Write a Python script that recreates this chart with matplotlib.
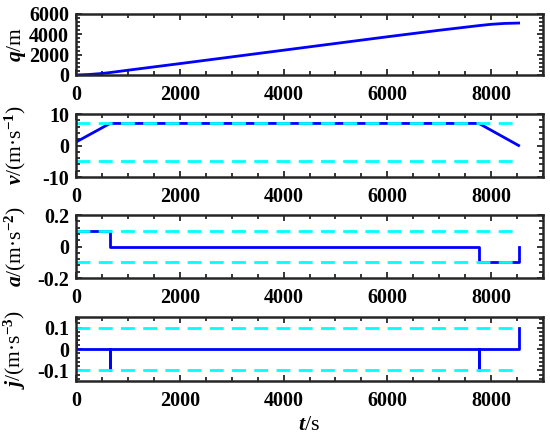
import numpy as np
import matplotlib
matplotlib.use("Agg")
import matplotlib.pyplot as plt
from matplotlib.ticker import MultipleLocator, AutoMinorLocator

# position
t_q = [0, 250, 500, 655, 1000, 2000, 3000, 4000, 5000, 6000, 7000, 7765, 8000, 8250, 8530]
q = [0, 50, 150, 240, 470, 1120, 1780, 2440, 3100, 3760, 4400, 4860, 4985, 5070, 5110]

# velocity
t_v = [0, 655, 7765, 8530]
v = [1.1, 7, 7, 0]
v_lim = [7, -5]

# acceleration
t_a = [0, 0, 655, 655, 7765, 7765, 8530, 8530]
a = [0, 0.1, 0.1, 0, 0, -0.1, -0.1, 0]
a_lim = [0.1, -0.1]

# jerk
t_j = [0, 0, 655, 655, 655, 7765, 7765, 7765, 8530, 8530]
j = [0.1, 0, 0, -0.1, 0, 0, -0.1, 0, 0, 0.1]
j_lim = [0.1, -0.1]

t_end = 8530

plt.rcParams['font.family'] = 'Liberation Serif'
plt.rcParams['font.weight'] = 'bold'
plt.rcParams['mathtext.fontset'] = 'custom'
plt.rcParams['mathtext.rm'] = 'Liberation Serif:bold'
plt.rcParams['mathtext.it'] = 'Liberation Serif:italic:bold'
plt.rcParams['mathtext.bf'] = 'Liberation Serif:bold'
plt.rcParams['axes.unicode_minus'] = False

fig = plt.figure(figsize=(5.5, 4.4), dpi=100)
W, H = 550.0, 440.0
left, right = 76, 543
boxes = [(14, 75), (114, 177), (215, 278), (317, 381)]
axes = []
for top, bot in boxes:
    ax = fig.add_axes([left / W, 1 - bot / H, (right - left) / W, (bot - top) / H])
    axes.append(ax)

blue = '#0000ff'
cyan = '#00ffff'
lw = 2.0
dash = (5.0, 3.0)

ax = axes[0]
ax.plot(t_q, q, color=blue, lw=lw)
ax.set_ylim(0, 6000)
ax.yaxis.set_major_locator(MultipleLocator(2000))
ax.set_ylabel(r'$q$/m')

ax = axes[1]
ax.plot(t_v, v, color=blue, lw=lw)
for lim in v_lim:
    ax.plot([0, t_end], [lim, lim], color=cyan, lw=lw, dashes=dash)
ax.set_ylim(-10, 10)
ax.yaxis.set_major_locator(MultipleLocator(10))
ax.set_ylabel(r'$v$/(m·s$^{-1}$)')

ax = axes[2]
ax.plot(t_a, a, color=blue, lw=lw)
for lim in a_lim:
    ax.plot([0, t_end], [lim, lim], color=cyan, lw=lw, dashes=dash)
ax.set_ylim(-0.2, 0.2)
ax.set_yticks([-0.2, 0, 0.2])
ax.set_yticklabels(['-0.2', '0', '0.2'])
ax.set_ylabel(r'$a$/(m·s$^{-2}$)')

ax = axes[3]
ax.plot(t_j, j, color=blue, lw=lw)
for lim in j_lim:
    ax.plot([0, t_end], [lim, lim], color=cyan, lw=lw, dashes=dash)
ax.set_ylim(-0.15, 0.15)
ax.set_yticks([-0.1, 0, 0.1])
ax.set_yticklabels(['-0.1', '0', '0.1'])
ax.set_ylabel(r'$j$/(m·s$^{-3}$)')
ax.set_xlabel(r'$t$/s', fontsize=16, labelpad=4)

for ax in axes:
    ax.set_xlim(0, 9000)
    ax.xaxis.set_major_locator(MultipleLocator(2000))
    ax.xaxis.set_minor_locator(MultipleLocator(500))
    ax.yaxis.set_minor_locator(AutoMinorLocator(5))
    ax.tick_params(which='both', direction='in', top=True, right=True,
                   labelsize=14.5, width=1.3, color='#262626')
    ax.tick_params(which='major', length=4)
    ax.tick_params(axis='x', which='major', pad=7)
    ax.tick_params(axis='y', which='major', pad=5)
    ax.tick_params(which='minor', length=3)
    for s in ax.spines.values():
        s.set_linewidth(1.8)
        s.set_color('#262626')
    ax.yaxis.label.set_fontsize(15.5)
    ax.yaxis.set_label_coords(-0.103, 0.5)
    for lbl in ax.get_xticklabels() + ax.get_yticklabels():
        lbl.set_fontweight('bold')

fig.savefig('out.png', dpi=100)
